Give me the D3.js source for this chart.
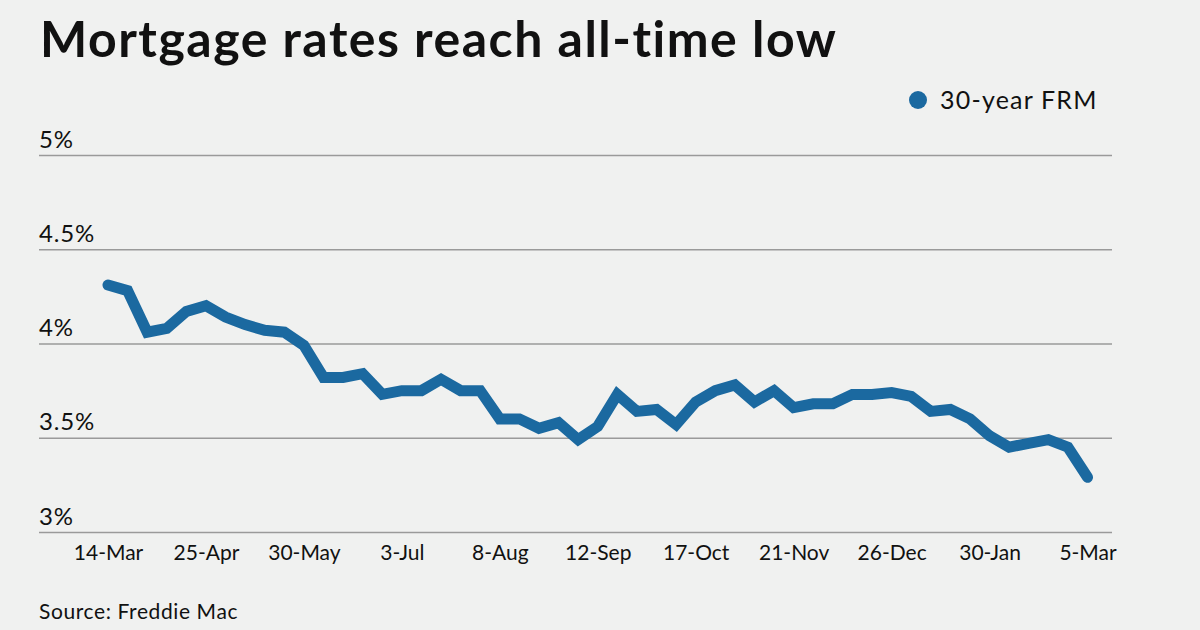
<!DOCTYPE html>
<html>
<head>
<meta charset="utf-8">
<script src="https://cdn.jsdelivr.net/npm/d3@7"></script>
<style>
  html, body { margin: 0; padding: 0; background: #f0f1f0; }
  svg { display: block; }
  text { font-family: Lato, "Noto Sans", sans-serif; fill: #111; }
</style>
</head>
<body>
<svg id="chart" width="1200" height="630"></svg>
<script>
// Weekly dates (Freddie Mac PMMS)
const dates = ["14-Mar","21-Mar","28-Mar","4-Apr","18-Apr","25-Apr","2-May","9-May","16-May","23-May",
  "30-May","6-Jun","13-Jun","20-Jun","27-Jun","3-Jul","11-Jul","18-Jul","25-Jul","1-Aug",
  "8-Aug","15-Aug","22-Aug","29-Aug","5-Sep","12-Sep","19-Sep","26-Sep","3-Oct","10-Oct",
  "17-Oct","24-Oct","31-Oct","7-Nov","14-Nov","21-Nov","27-Nov","5-Dec","12-Dec","19-Dec",
  "26-Dec","2-Jan","9-Jan","16-Jan","23-Jan","30-Jan","6-Feb","13-Feb","20-Feb","27-Feb","5-Mar"];
// 30-year fixed rate mortgage, %
const frm30 = [4.31,4.28,4.06,4.08,4.17,4.20,4.14,4.10,4.07,4.06,
  3.99,3.82,3.82,3.84,3.73,3.75,3.75,3.81,3.75,3.75,
  3.60,3.60,3.55,3.58,3.49,3.56,3.73,3.64,3.65,3.57,
  3.69,3.75,3.78,3.69,3.75,3.66,3.68,3.68,3.73,3.73,
  3.74,3.72,3.64,3.65,3.60,3.51,3.45,3.47,3.49,3.45,3.29];
const xTickLabels = ["14-Mar","25-Apr","30-May","3-Jul","8-Aug","12-Sep","17-Oct","21-Nov","26-Dec","30-Jan","5-Mar"];
const yTicks = [3, 3.5, 4, 4.5, 5];
const yTickLabels = ["3%","3.5%","4%","4.5%","5%"];
const seriesName = "30-year FRM";
const title = "Mortgage rates reach all-time low";
const source = "Source: Freddie Mac";

const svg = d3.select("#chart");
const color = "#1b69a0";
const gridLeft = 39, gridRight = 1112;

const x = d3.scalePoint().domain(dates).range([108, 1087.5]);
const y = d3.scaleLinear().domain([3, 5]).range([532, 155]);

// title
svg.append("text").attr("x", 40).attr("y", 57)
  .style("font-size", "50px").style("font-weight", 700).style("letter-spacing", "1.5px")
  .text(title);

// legend
svg.append("circle").attr("cx", 918).attr("cy", 100).attr("r", 9).attr("fill", color);
svg.append("text").attr("x", 940).attr("y", 109)
  .style("font-size", "25px").style("letter-spacing", "1.2px").text(seriesName);

// y gridlines and labels
const yAxis = d3.axisLeft(y).tickValues(yTicks)
  .tickSize(-(gridRight - gridLeft))
  .tickFormat((d, i) => yTickLabels[i]);
const gy = svg.append("g").attr("transform", `translate(${gridLeft},0)`).call(yAxis);
gy.select(".domain").remove();
gy.selectAll(".tick line").attr("stroke", "#9a9a9a").attr("stroke-width", 1.5);
gy.selectAll(".tick text")
  .attr("x", 0).attr("dy", "-8px").attr("text-anchor", "start")
  .style("font-size", "24px").style("letter-spacing", "0.8px")
  .style("font-family", "Lato, 'Noto Sans', sans-serif").attr("fill", "#111");

// x axis labels
const tickVals = dates.filter(d => xTickLabels.includes(d));
const xAxis = d3.axisBottom(x).tickValues(tickVals).tickSize(0)
  .tickFormat(d => xTickLabels[xTickLabels.indexOf(d)]);
const gx = svg.append("g").attr("transform", `translate(0,541)`).call(xAxis);
gx.select(".domain").remove();
gx.selectAll(".tick text").attr("dy", "0").attr("y", 19)
  .style("font-size", "21px").style("font-family", "Lato, 'Noto Sans', sans-serif").attr("fill", "#111");

// line
const line = d3.line().x((d, i) => x(dates[i])).y(d => y(d));
svg.append("path").datum(frm30)
  .attr("d", line)
  .attr("fill", "none").attr("stroke", color)
  .attr("stroke-width", 11).attr("stroke-linecap", "round").attr("stroke-linejoin", "miter");

// source
svg.append("text").attr("x", 39).attr("y", 619)
  .style("font-size", "21px").style("letter-spacing", "0.6px").text(source);
</script>
</body>
</html>
